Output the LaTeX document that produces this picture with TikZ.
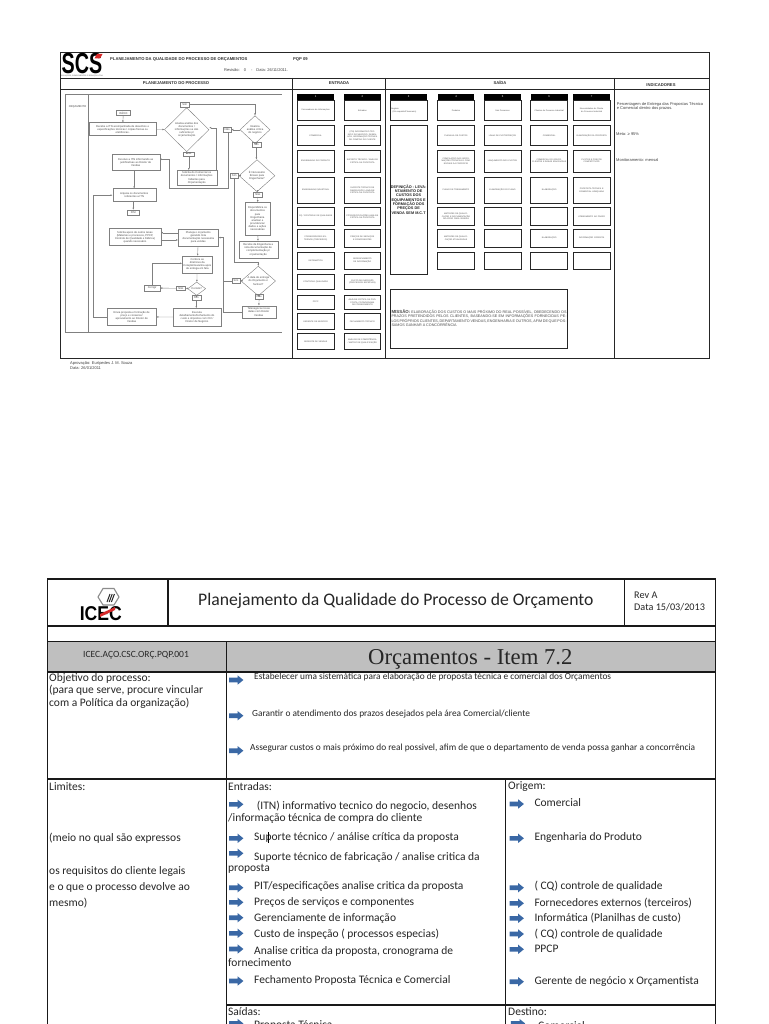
\documentclass[tikz,border=0pt]{standalone}
\usepackage{fontspec}
\setmainfont{Carlito}
\newfontfamily\topfont{Liberation Sans}
\newfontfamily\serfont{Liberation Serif}
\usepackage{xcolor}
\usepackage{graphicx}
\usepackage{tikz}
\usetikzlibrary{arrows.meta, calc, shapes.geometric}

\definecolor{flowgray}{gray}{0.5}
\definecolor{rowgray}{RGB}{191,191,191}
\definecolor{arrowblue}{RGB}{58,104,165}
\definecolor{logored}{RGB}{215,40,40}

\tikzset{
  tinytext/.style={font=\topfont\fontsize{2.7}{3.1}\selectfont, text=black!70, align=center, inner sep=0pt},
  flowbox/.style={draw=flowgray, line width=0.4pt, tinytext, rectangle},
  flowdec/.style={draw=flowgray, line width=0.4pt, tinytext, diamond, aspect=1},
  flowtag/.style={draw=flowgray, line width=0.4pt, tinytext, minimum width=9pt, minimum height=4.5pt},
  flowline/.style={draw=flowgray, line width=0.35pt, -{Latex[length=2pt,width=1.7pt]}},
  cellline/.style={draw=black!85, line width=0.7pt},
  celltext/.style={font=\topfont\fontsize{2.1}{2.5}\selectfont, text=black!70, align=center, inner sep=0pt, text width=35pt},
  headtext/.style={font=\topfont\bfseries\fontsize{4.15}{4.6}\selectfont, text=black!80, inner sep=0pt},
  sidetext/.style={font=\topfont\fontsize{4}{4.4}\selectfont, text=black!75, inner sep=0pt, anchor=west},
  gridline/.style={draw=black!85, line width=0.8pt},
  lowerline/.style={draw=black!90, line width=1.1pt},
  bodytext/.style={font=\fontsize{11.5}{13}\selectfont, text=black!85, inner sep=0pt, anchor=west},
  smalltext/.style={font=\fontsize{9.35}{11}\selectfont, text=black!85, inner sep=0pt, anchor=west},
  bluearrow/.pic={
    \fill[arrowblue] (-7.2,-2.3) -- (1.5,-2.3) -- (1.5,-4.6) -- (7.2,0) -- (1.5,4.6) -- (1.5,2.3) -- (-7.2,2.3) -- cycle;
  },
}

% one column of boxes on the upper sheet
\newcommand{\cellcolumn}[4]{
  \foreach \ya/\yb/\txt [count=\r] in {#4} {
    \draw[cellline] (#2,\ya) rectangle (#3,\yb) node[midway, celltext] (#1\r) {\txt};
  }
}

\begin{document}
\begin{tikzpicture}[x=1pt, y=-1pt]
\useasboundingbox (0,0) rectangle (768,1024);
\clip (0,0) rectangle (768,1024);
\fill[white] (0,0) rectangle (768,1024);

% upper sheet
\draw[gridline] (60,52) rectangle (709,358);
\draw[gridline] (60,78) -- (709,78);
\draw[gridline] (60,89) -- (709,89);
\draw[gridline] (292.6,78) -- (292.6,358);
\draw[gridline] (385.5,78) -- (385.5,358);
\draw[gridline] (614.8,78) -- (614.8,358);

\node[font=\topfont\bfseries\fontsize{29}{29}\selectfont, inner sep=0pt] (scslogo) at (82,64) {\scalebox{0.68}[1]{SCS}};
\fill[logored] (97,54) -- (102.5,54) -- (100,58.5) -- (94.5,58.5) -- cycle;
\node[font=\topfont\fontsize{1.8}{2}\selectfont, text=black!70, inner sep=0pt] (scssub) at (82,75.7) {SOLUÇÕES, COMPONENTES E SERVIÇOS LTDA};
\node[headtext, anchor=west] (sheettitle) at (110,59) {PLANEJAMENTO DA QUALIDADE DO PROCESSO DE ORÇAMENTOS};
\node[headtext, anchor=west] (sheetcode) at (293,59) {PQP 09};
\node[sidetext, anchor=west] (sheetrev) at (224,70.5) {Revisão:\quad 0 \quad -\quad Data: 26/11/2011.};
\node[headtext, anchor=base] (headplan) at (176,85) {PLANEJAMENTO DO PROCESSO};
\node[headtext, anchor=base] (headin) at (339,85) {ENTRADA};
\node[headtext, anchor=base] (headout) at (500,85) {SAÍDA};
\node[headtext, anchor=base] (headind) at (661,86.7) {INDICADORES};

\node[sidetext, align=left] (indone) at (616.7,106.5) {Percentagem de Entrega das Propostas Técnica\\e Comercial dentro dos prazos.};
\node[sidetext] (indtwo) at (616,134.5) {Meta: ≥ 95\%};
\node[sidetext] (indthree) at (616,160.5) {Monitoramento: mensal};
\node[sidetext] (apprvone) at (70,363.3) {Aprovação: Eurípedes J. M. Souza};
\node[sidetext] (apprvtwo) at (70,367.7) {Data: 26/01/2011};

% black bars with the numbers
\foreach \xa/\xb/\n in {297.3/334/1, 344/380.7/2, 390.3/427/3, 437.7/474.3/4, 484/521/5, 530.7/567.7/6, 573.3/610/7} {
  \fill[black] (\xa,94) rectangle (\xb,100) node[midway, font=\topfont\fontsize{2.7}{3}\selectfont, text=white, inner sep=0pt] (bar\n) {\n};
}

\cellcolumn{ea}{297.3}{334}{100/120.7/{Fornecedores de Informações}, 125.7/145.3/{COMERCIAL}, 150/172/{ENGENHARIA DO PRODUTO}, 177.3/203/{ENGENHARIA INDUSTRIAL}, 207.7/225/{CQ / CONTROLE DE QUALIDADE}, 229.3/247.3/{FORNECEDORES EXTERNOS (TERCEIROS)}, 252/269.3/{INFORMÁTICA}, 274.3/289.7/{CONTROLE QUALIDADE}, 295.3/309/{PPCP}, 313.3/329/{GERENTE DE NEGÓCIO}, 333.7/349/{GERENTE DE VENDAS}}
\cellcolumn{eb}{344}{380.7}{100/120.7/{Entradas}, 125.7/145.3/{(ITN) INFORMATIVO TÉCNICO DO NEGÓCIO, DESENHOS, INFORMAÇÃO TÉCNICA DE COMPRA DO CLIENTE}, 150/172/{SUPORTE TÉCNICO / ANÁLISE CRÍTICA DA PROPOSTA}, 177.3/203/{SUPORTE TÉCNICO DE FABRICAÇÃO / ANÁLISE CRÍTICA DA PROPOSTA}, 207.7/225/{PIT/ESPECIFICAÇÕES ANÁLISE CRÍTICA DA PROPOSTA}, 229.3/247.3/{PREÇOS DE SERVIÇOS E COMPONENTES}, 252/269.3/{GERENCIAMENTO DE INFORMAÇÃO}, 274.3/289.7/{CUSTO DE INSPEÇÃO (PROCESSOS ESPECIAIS)}, 295.3/309/{ANÁLISE CRÍTICA DA PROPOSTA, CRONOGRAMA DE FORNECIMENTO}, 313.3/329/{FECHAMENTO TÉCNICO}, 333.7/349/{ANÁLISE DE COMPETÊNCIA / MATRIZ DE QUALIFICAÇÃO}}
\cellcolumn{sb}{437.7}{474.3}{100/120.7/{Produtos}, 125.7/145.3/{PLANILHA DE CUSTOS}, 150/172/{COMPILAÇÃO DAS INFORMAÇÕES TÉCNICAS E COMERCIAIS DA PROPOSTA}, 177.3/203/{PLANO DE TREINAMENTO}, 207.7/225/{MATRIZES DE QUALIFICAÇÃO E DOCUMENTAÇÃO DE APOIO PARA VENDAS}, 229.3/247.3/{MATRIZES DE QUALIFICAÇÃO ATUALIZADAS}, 252/269.3/{}}
\cellcolumn{sc}{484}{521}{100/120.7/{Sub Processos}, 125.7/145.3/{LINHA DE CUSTO/PREÇOS}, 150/172/{LANÇAMENTO DOS CUSTOS}, 177.3/203/{ELABORAÇÃO DO PLANO}, 207.7/225/{}, 229.3/247.3/{}, 252/269.3/{}}
\cellcolumn{sd}{530.7}{567.7}{100/120.7/{Clientes do Processo Industrial}, 125.7/145.3/{COMERCIAL}, 150/172/{COMERCIAL DO GRUPO, CLIENTES E ÁREAS ENVOLVIDAS}, 177.3/203/{ELABORAÇÃO}, 207.7/225/{}, 229.3/247.3/{ELABORAÇÃO}, 252/269.3/{}}
\cellcolumn{se}{573.3}{610}{100/120.7/{Necessidades do Cliente do Processo Industrial}, 125.7/145.3/{ELABORAÇÃO DA PROPOSTA}, 150/172/{CUSTOS E PREÇOS COMPETITIVOS}, 177.3/203/{PROPOSTA TÉCNICA E COMERCIAL ADEQUADA}, 207.7/225/{ATENDIMENTO AO PRAZO}, 229.3/247.3/{INFORMAÇÃO CORRETA}, 252/269.3/{}}

% negocio cell and the tall one
\draw[cellline] (390.3,100) rectangle (427,120.7) node[midway, celltext, align=left] (sa1) {Negócio\\ \ \ (Pré-requisito/Financeiro)};
\draw[cellline] (390.3,125.7) rectangle (427,274.7);
\node[font=\topfont\bfseries\fontsize{3.8}{4.3}\selectfont, text=black!85, align=center, inner sep=0pt] (definicao) at (408.6,199.5) {DEFINIÇÃO - LEVA-\\NTAMENTO DE\\CUSTOS DOS\\EQUIPAMENTOS E\\FORMAÇÃO DOS\\PREÇOS DE\\VENDA SEM M.C.T};
\draw[cellline] (390.3,289.3) rectangle (567.7,348.3);
\node[font=\topfont\fontsize{3.7}{4.2}\selectfont, text=black!70, align=justify, text width=175pt, inner sep=0pt] (missao) at (479,318) {{\bfseries\fontsize{4.4}{4.2}\selectfont MISSÃO:} ELABORAÇÃO DOS CUSTOS O MAIS PRÓXIMO DO REAL POSSÍVEL, OBEDECENDO OS PRAZOS PRETENDIDOS PELOS CLIENTES, BASEANDO-SE EM INFORMAÇÕES FORNECIDAS PELOS PRÓPRIOS CLIENTES, DEPARTAMENTO VENDAS, ENGENHARIA E OUTROS, AFIM DE QUE POSSAMOS GANHAR A CONCORRÊNCIA};

% process frame
\draw[flowgray, line width=0.45pt] (65,94.3) -- (281.7,94.3);
\draw[flowgray, line width=0.45pt] (65,332) -- (281.7,332);
\draw[flowgray, line width=0.45pt] (65,94.3) -- (65,332);
\draw[flowgray, line width=0.45pt] (88.3,94.3) -- (88.3,332);
\node[tinytext] (orcamento) at (77.5,107) {ORÇAMENTO};

% process boxes
\node[flowbox, minimum width=13.3pt, minimum height=4.6pt] (inicio) at (123.3,113) {INÍCIO};
\node[flowbox, minimum width=66.7pt, minimum height=13pt] (recebe) at (122.6,129.2) {Recebe a ITN acompanhada de desenhos e\\especificações técnicas / cópias físicas ou\\eletrônicas.};
\node[flowdec, minimum width=44.6pt, minimum height=44pt] (analisa) at (186.7,129.7) {Analisa análise dos\\documentos /\\informações se são\\suficiente p/\\orçamentação};
\node[flowtag] (simA) at (184.8,104.6) {Sim};
\node[flowtag, minimum width=11pt] (naoA) at (188.8,154) {Não};
\node[flowbox, minimum width=40pt, minimum height=15pt] (solicita) at (196.7,177.8) {Solicita do Comercial os\\documentos / informações\\faltantes para\\Orçamentação};
\node[flowdec, minimum width=30pt, minimum height=28pt] (critica) at (255,129.7) {Realiza\\análise crítica\\do negócio};
\node[flowtag, minimum width=7.7pt] (naoB) at (227.2,129.7) {Não};
\node[flowtag] (simB) at (256.4,144.7) {Sim};
\node[flowbox, minimum width=48pt, minimum height=16.3pt] (devolve) at (135.7,162.2) {Devolve a ITN informando as\\justificativas ao Diretor de\\Vendas};
\node[flowbox, minimum width=43pt, minimum height=13pt] (arquiva) at (134.2,195.2) {Arquiva os documentos\\referentes a ITN};
\node[flowbox, minimum width=11.3pt, minimum height=5.7pt] (fim) at (133.3,212.8) {FIM};
\node[flowdec, minimum width=36pt, minimum height=32pt] (ensaio) at (257,175.7) {É Necessário\\Ensaio para\\Engenharia?};
\node[flowtag, minimum width=8.7pt] (naoC) at (234.3,175.5) {Sim};
\node[flowtag] (simC) at (257.8,194.5) {Não};
\node[flowbox, minimum width=25pt, minimum height=32.7pt] (dispon) at (257.5,218.7) {Disponibiliza os\\documentos\\para\\Engenharia\\analisar e\\providenciar\\dados e ações\\necessárias};
\node[flowbox, minimum width=39pt, minimum height=17.3pt] (recnota) at (258.2,249.7) {Recebe da Engenharia a\\nota documentação de\\complementação p/\\orçamentação};
\node[flowdec, minimum width=34.6pt, minimum height=28.4pt] (entrega) at (258.3,281) {A data de entrega\\do Orçamento é\\factível?};
\node[flowtag, minimum width=8.6pt] (simD) at (236,280.7) {Sim};
\node[flowtag, minimum width=8.3pt] (naoD) at (259.2,296.8) {Não};
\node[flowbox, minimum width=34pt, minimum height=12.6pt] (telefone) at (258.7,312) {Telenegocia novas\\datas com Diretor\\Vendas};
\node[flowbox, minimum width=51.4pt, minimum height=16.6pt] (apoio) at (135,237) {Solicita apoio de outros áreas\\(Materiais e processos, PPCP,\\Controle de Qualidade e Fábrica)\\quando necessário};
\node[flowbox, minimum width=40pt, minimum height=16.7pt] (planeja) at (198.3,237.6) {Planeja o orçamento\\gerando lista\\documentação necessária\\para vendas};
\node[flowbox, minimum width=30pt, minimum height=17.3pt] (confere) at (197.3,264.6) {Confere as\\diretrizes da\\Cotação/Garantia após\\de entrega em fala};
\node[flowdec, minimum width=18pt, minimum height=13.4pt] (correto) at (196.7,288.7) {Correto?};
\node[flowtag, minimum width=9.7pt] (naoE) at (180.8,288.3) {Não};
\node[flowtag] (simE) at (196.3,297.6) {Sim};
\node[flowbox, minimum width=15.7pt, minimum height=5.4pt] (corrigir) at (152.2,288) {Corrigir};
\node[flowbox, minimum width=48pt, minimum height=17.7pt] (executa) at (197,317.2) {Executa\\detalhamento/fechamento do\\custo e impostos com Ctrl /\\Diretor de Negócio};
\node[flowbox, minimum width=48.7pt, minimum height=17pt] (envia) at (131.7,316.8) {Envia proposta e formação de\\preço e consenso/\\aprovamento ao Diretor de\\Vendas};

% bends
\coordinate (bendAa) at (216,127.7);
\coordinate (bendBa) at (228.3,188.3);
\coordinate (bendBb) at (169,188.3);
\coordinate (bendBc) at (169,159.3);
\coordinate (bendCa) at (234,262.3);
\coordinate (bendDa) at (223.3,237.6);
\coordinate (bendDb) at (223.3,280.7);
\coordinate (bendEa) at (93.3,316.8);
\coordinate (bendEb) at (93.3,195.2);

\draw[flowline] (inicio) -- (recebe);
\draw[flowline] (recebe) -- (analisa);
\draw[draw=flowgray, line width=0.35pt] (analisa.north) -- (analisa.north |- simA.south);
\draw[flowline] (simA) -| (critica.north);
\draw[flowline] (analisa.south) -- (analisa.south |- naoA.north);
\draw[flowline] (naoA.south) -- (naoA.south |- solicita.north);
\draw[flowline] (solicita.north -| bendAa) -- (bendAa) -- (analisa.east |- bendAa);
\draw[flowline] (critica) -- (naoB);
\draw[flowline] (naoB.south -| bendBa) -- (bendBa) -- (bendBb) -- (bendBc) -- (devolve.east |- bendBc);
\draw[flowline] (critica) -- (simB);
\draw[flowline] (simB) -- (ensaio.north -| simB);
\draw[flowline] (ensaio) -- (naoC);
\draw[flowline] (naoC.south -| bendCa) -- (bendCa) -- (bendCa -| entrega.north) -- (entrega.north);
\draw[flowline] (ensaio) -- (simC);
\draw[flowline] (simC) -- (dispon);
\draw[flowline] (dispon) -- (recnota);
\draw[flowline] (entrega) -- (simD);
\draw[flowline] (entrega) -- (naoD);
\draw[flowline] (naoD) -- (telefone);
\draw[draw=flowgray, line width=0.35pt] (simD) -- (bendDb);
\draw[flowline] (telefone.west) -| (bendDa) -- (planeja.east);
\draw[flowline] (planeja.west |- 0,232.7) -- (apoio.east |- 0,232.7);
\draw[flowline] (apoio.east |- 0,240) -- (planeja.west |- 0,240);
\draw[flowline] (planeja) -- (confere);
\draw[flowline] (confere) -- (correto);
\draw[flowline] (correto) -- (naoE);
\draw[flowline] (naoE) -- (corrigir);
\draw[flowline] (corrigir.north) |- (confere.west |- 0,263.3);
\draw[flowline] (correto) -- (simE);
\draw[flowline] (simE) -- (simE |- executa.north);
\draw[flowline] (executa) -- (envia);
\draw[flowline] (envia.west) -- (bendEa) -- (bendEb) -- (arquiva.west);
\draw[flowline] (devolve.south -| arquiva.north) -- (arquiva.north);
\draw[flowline] (arquiva.south -| fim.north) -- (fim.north);

% lower sheet
\fill[rowgray] (47.3,641.7) rectangle (715.7,672);
\draw[lowerline] (47.3,579) rectangle (715.7,1030);
\draw[lowerline] (47.3,626) -- (715.7,626);
\draw[lowerline] (47.3,641.7) -- (715.7,641.7);
\draw[lowerline] (47.3,672) -- (715.7,672);
\draw[lowerline] (47.3,779) -- (715.7,779);
\draw[lowerline] (226.7,1005) -- (715.7,1005);
\draw[lowerline] (168,579) -- (168,626);
\draw[lowerline] (624.3,579) -- (624.3,626);
\draw[lowerline] (226.7,641.7) -- (226.7,1030);
\draw[lowerline] (505.7,779) -- (505.7,1030);

% icec logo
\draw[black!45, line width=1.1pt] (103,588.5) -- (114,588.5) -- (119,597) -- (114,605) -- (103,605) -- (98,597) -- cycle;
\foreach \a in {0,2.2,4.4} {
  \draw[black!85, line width=1pt] (107+\a,602) -- (110+\a,594);
}
\node[font=\topfont\bfseries\fontsize{20}{20}\selectfont, text=black, inner sep=0pt] (iceclogo) at (100.8,614) {\scalebox{0.88}[1]{ICEC}};
\fill[logored] (100,614) -- (115,607) -- (115,610) -- (100,617) -- cycle;

\node[font=\fontsize{17.65}{20}\selectfont, text=black!85, inner sep=0pt, anchor=west] (doctitle) at (198,600.5) {Planejamento da Qualidade do Processo de Orçamento};
\node[font=\fontsize{10.2}{12}\selectfont, text=black!85, inner sep=0pt, anchor=west] (docrev) at (634,595) {Rev A};
\node[font=\fontsize{10.2}{12}\selectfont, text=black!85, inner sep=0pt, anchor=west] (docdata) at (634,606.7) {Data 15/03/2013};
\node[font=\fontsize{9.5}{11}\selectfont, text=black!85, inner sep=0pt] (doccode) at (136,655.6) {ICEC.AÇO.CSC.ORÇ.PQP.001};
\node[font=\serfont\fontsize{22.7}{26}\selectfont, text=black!85, inner sep=0pt, anchor=west] (docitem) at (368,659) {Orçamentos - Item 7.2};

\node[bodytext] (objetivoa) at (49,678) {Objetivo do processo:};
\node[bodytext] (objetivob) at (49,690) {(para que serve, procure vincular};
\node[bodytext] (objetivoc) at (49,703) {com a Política da organização)};
\node[smalltext] (metaa) at (254,676.7) {Estabelecer uma sistemática para elaboração de proposta técnica e comercial dos Orçamentos};
\node[smalltext] (metab) at (252,714) {Garantir o atendimento dos prazos desejados pela área Comercial/cliente};
\node[smalltext] (metac) at (250,748) {Assegurar custos o mais próximo do real possivel, afim de que o departamento de venda possa ganhar a concorrência};

\node[bodytext] (limites) at (49,786.7) {Limites:};
\node[bodytext] (limitea) at (49,838.3) {(meio no qual são expressos};
\node[bodytext] (limiteb) at (49,871) {os requisitos do cliente legais};
\node[bodytext] (limitec) at (49,887.3) {e o que o processo devolve ao};
\node[bodytext] (limited) at (49,903.3) {mesmo)};

\node[bodytext] (entradas) at (228,786.7) {Entradas:};
\node[bodytext] (origem) at (508,786.7) {Origem:};
\node[bodytext] (saidas) at (228,1011.7) {Saídas:};
\node[bodytext] (destino) at (508,1011.7) {Destino:};

% lines of entradas
\foreach \n/\xa/\ya/\txt in {1/256.7/806.7/{(ITN) informativo tecnico do negocio, desenhos}, 2/228/818.3/{/informação técnica de compra do cliente}, 3/254/837/{Suporte técnico / análise crítica da proposta}, 4/254/857.3/{Suporte técnico de fabricação / analise critica da}, 5/228/869/{proposta}, 6/254/886.7/{PIT/especificações analise critica da proposta}, 7/254/902.3/{Preços de serviços e componentes}, 8/254/918.3/{Gerenciamente de informação}, 9/254/934/{Custo de inspeção ( processos especias)}, 10/254/951.7/{Analise critica da proposta, cronograma de}, 11/228/962.3/{fornecimento}, 12/254/980.7/{Fechamento Proposta Técnica e Comercial}, 13/254/1025/{Proposta Técnica}} {
  \node[bodytext] (ent\n) at (\xa,\ya) {\txt};
}
\draw[black, line width=0.8pt] (268.5,832) -- (268.5,843);

% lines of origem
\foreach \n/\ya/\txt in {1/802.7/{Comercial}, 2/837.3/{Engenharia do Produto}, 3/886.7/{( CQ) controle de qualidade}, 4/903.3/{Fornecedores externos (terceiros)}, 5/918.3/{Informática (Planilhas de custo)}, 6/934/{( CQ) controle de qualidade}, 7/948.3/{PPCP}, 8/981.7/{Gerente de negócio x Orçamentista}} {
  \node[bodytext] (ori\n) at (534.3,\ya) {\txt};
}
\node[bodytext] (dest1) at (538,1025.5) {Comercial};

% blue arrows
\foreach \n/\xa/\ya in {1/236.2/680, 2/236.2/715.7, 3/236.2/750.7, 4/236.2/804.3, 5/236.2/838.3, 6/236.2/853.3, 7/236.2/887.7, 8/236.2/902.3, 9/236.2/917.7, 10/236.2/933.3, 11/236.2/949, 12/236.2/981, 13/236.2/1023.5, 14/516.7/804, 15/516.7/838.3, 16/516.7/887.7, 17/516.7/903.3, 18/516.7/918.3, 19/516.7/934, 20/516.7/949.3, 21/516.7/981.7, 22/518/1023.5} {
  \pic (blue\n) at (\xa,\ya) {bluearrow};
}
\end{tikzpicture}
\end{document}
